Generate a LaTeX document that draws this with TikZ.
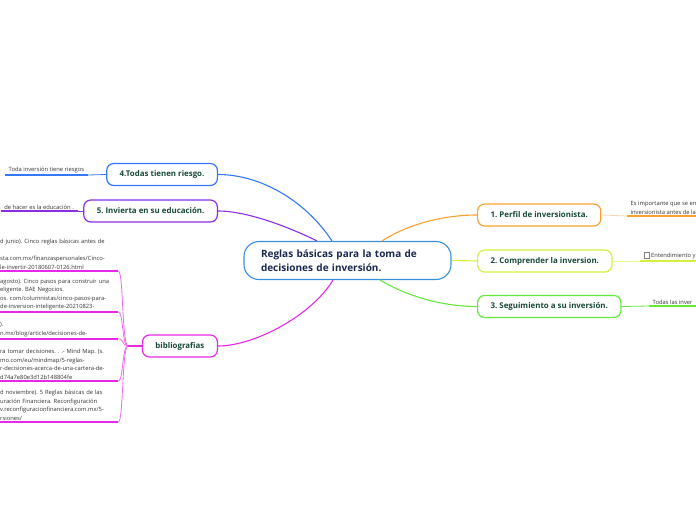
\documentclass[tikz,border=0pt]{standalone}
\usepackage{fontspec}
\setmainfont{Open Sans}
\frenchspacing
\usetikzlibrary{calc, positioning}
\definecolor{rootBlue}{RGB}{58,142,222}
\definecolor{rootText}{RGB}{26,40,80}
\definecolor{branchText}{RGB}{24,72,58}
\definecolor{leafText}{RGB}{50,50,50}
\definecolor{riskBlue}{RGB}{52,120,245}
\definecolor{eduPurple}{RGB}{138,46,232}
\definecolor{bibMagenta}{RGB}{232,40,232}
\definecolor{profOrange}{RGB}{248,160,48}
\definecolor{compYellow}{RGB}{214,240,60}
\definecolor{followGreen}{RGB}{100,232,60}
\newcommand{\tickbox}{{\setlength{\fboxsep}{0pt}\setlength{\fboxrule}{0.5pt}\fcolorbox{gray}{white}{\rule{0pt}{5pt}\rule{5pt}{0pt}}}}
\tikzset{
    branch/.style={draw=#1, line width=1.2pt, fill=white, rounded corners=7pt, minimum height=22pt, inner xsep=13pt,
        text=branchText, font=\fontsize{7.9}{9.5}\selectfont\bfseries},
    leaf/.style={text=leafText, font=\fontsize{5.8}{8.5}\selectfont, inner xsep=3.5pt, inner ysep=1.5pt, align=left},
    link/.style={draw=#1, line width=1.1pt},
    underline/.style={draw=#1, line width=2pt},
    twig/.style={draw=#1, line width=0.8pt}
}

\begin{document}
\begin{tikzpicture}[x=1pt, y=-1pt]
    \useasboundingbox (0,0) rectangle (696,520);
    \clip (0,0) rectangle (696,520);
    \node[draw=rootBlue, line width=1.1pt, fill=white, rounded corners=15pt, minimum height=38pt, inner xsep=17pt,
        text width=173pt, align=left, text=rootText, font=\fontsize{10}{13.5}\selectfont\bfseries]
        (root) at (347.5,260.5) {Reglas básicas para la toma de\\decisiones de inversión.};

    \node[branch=profOrange, anchor=west] (perfil) at (477,215) {1. Perfil de inversionista.};
    \node[branch=compYellow, anchor=west] (comprender) at (477,261) {2. Comprender la inversion.};
    \node[branch=followGreen, anchor=west] (seguimiento) at (477,306.5) {3. Seguimiento a su inversión.};
    \node[branch=riskBlue, anchor=east] (riesgo) at (218,174.5) {4.Todas tienen riesgo.};
    \node[branch=eduPurple, anchor=east] (educacion) at (218,211) {5. Invierta en su educación.};
    \node[branch=bibMagenta, anchor=east] (biblio) at (218,346) {bibliografias};

    \draw[link=riskBlue] ($(root.north)+(-15.5,0)$) .. controls (305,200) and (260,174.5) .. (riesgo.east);
    \draw[link=eduPurple] ($(root.north)+(-30.5,0)$) .. controls (295,230) and (250,211) .. (educacion.east);
    \draw[link=bibMagenta] ($(root.south)+(-14.5,0)$) .. controls (312,315) and (255,346) .. (biblio.east);
    \draw[link=profOrange] ($(root.north)+(34.5,0)$) .. controls (405,226) and (440,215) .. (perfil.west);
    \draw[link=compYellow] (root.east) -- (comprender.west);
    \draw[link=followGreen] ($(root.south)+(32.5,0)$) .. controls (405,295) and (440,306.5) .. (seguimiento.west);

    \node[leaf, anchor=south west] (perfilNote) at (627,216) {Es importante que se en\\inversionista antes de la};
    \node[leaf, anchor=south west] (comprenderNote) at (640,261) {\tickbox\ Entendimiento y};
    \node[leaf, anchor=south west] (seguimientoNote) at (649,306) {Todas las inver};
    \draw[underline=profOrange] (perfilNote.south west) -- ++(80,0);
    \draw[underline=compYellow] (comprenderNote.south west) -- ++(80,0);
    \draw[underline=followGreen] (seguimientoNote.south west) -- ++(80,0);
    \draw[twig=profOrange!40] (perfil.east) -- (perfilNote.south west);
    \draw[twig=compYellow!60] (comprender.east) -- (comprenderNote.south west);
    \draw[twig=followGreen] (seguimiento.east) -- (seguimientoNote.south west);

    \node[leaf, anchor=south west] (riesgoNote) at (5,175) {Toda inversión tiene riesgos};
    \node[leaf, anchor=south east] (educacionNote) at (77.5,211) {de hacer es la educación .};
    \draw[underline=riskBlue] (riesgoNote.south west) -- (riesgoNote.south east);
    \draw[underline=eduPurple] (educacionNote.south west) -- (educacionNote.south east);
    \draw[twig=riskBlue] (riesgoNote.south east) -- (riesgo.west);
    \draw[twig=eduPurple] (educacionNote.south east) -- (educacion.west);

    \node[leaf, anchor=south west, inner xsep=0pt, text width=118pt] (ref1) at (0,271)
        {d junio). Cinco reglas básicas antes de\\[8.5pt]sta.com.mx/finanzaspersonales/Cinco-\\le-invertir-20180607-0126.html};
    \node[leaf, anchor=south west, inner xsep=0pt, text width=118pt] (ref2) at (0,312)
        {agosto). Cinco pasos para construir una\\eligente. BAE Negocios.\\os. com/columnistas/cinco-pasos-para-\\de-inversion-inteligente-20210823-};
    \node[leaf, anchor=south west, inner xsep=0pt, text width=118pt] (ref3) at (0,338.5)
        {).\\n.mx/blog/article/decisiones-de-};
    \node[leaf, anchor=south west, inner xsep=0pt, text width=118pt] (ref4) at (0,381)
        {ra tomar decisiones. . .- Mind Map. (s.\\mo.com/eu/mindmap/5-reglas-\\r-decisiones-acerca-de-una-cartera-de-\\d74a7e80e3d12b148804fe};
    \node[leaf, anchor=south west, inner xsep=0pt, text width=118pt] (ref5) at (0,422)
        {d noviembre). 5 Reglas básicas de las\\uración Financiera. Reconfiguración\\v.reconfiguracionfinanciera.com.mx/5-\\rsiones/};
    \coordinate (bibJoint) at (128,346);
    \draw[link=bibMagenta] (bibJoint) -- (biblio.west);
    \foreach \r in {ref1,ref2,ref3,ref4,ref5} {
        \draw[underline=bibMagenta] (\r.south west) -- (\r.south east);
        \draw[twig=bibMagenta!70] (bibJoint) .. controls +(-6,0) and +(5,0) .. (\r.south east);
    }
\end{tikzpicture}
\end{document}
